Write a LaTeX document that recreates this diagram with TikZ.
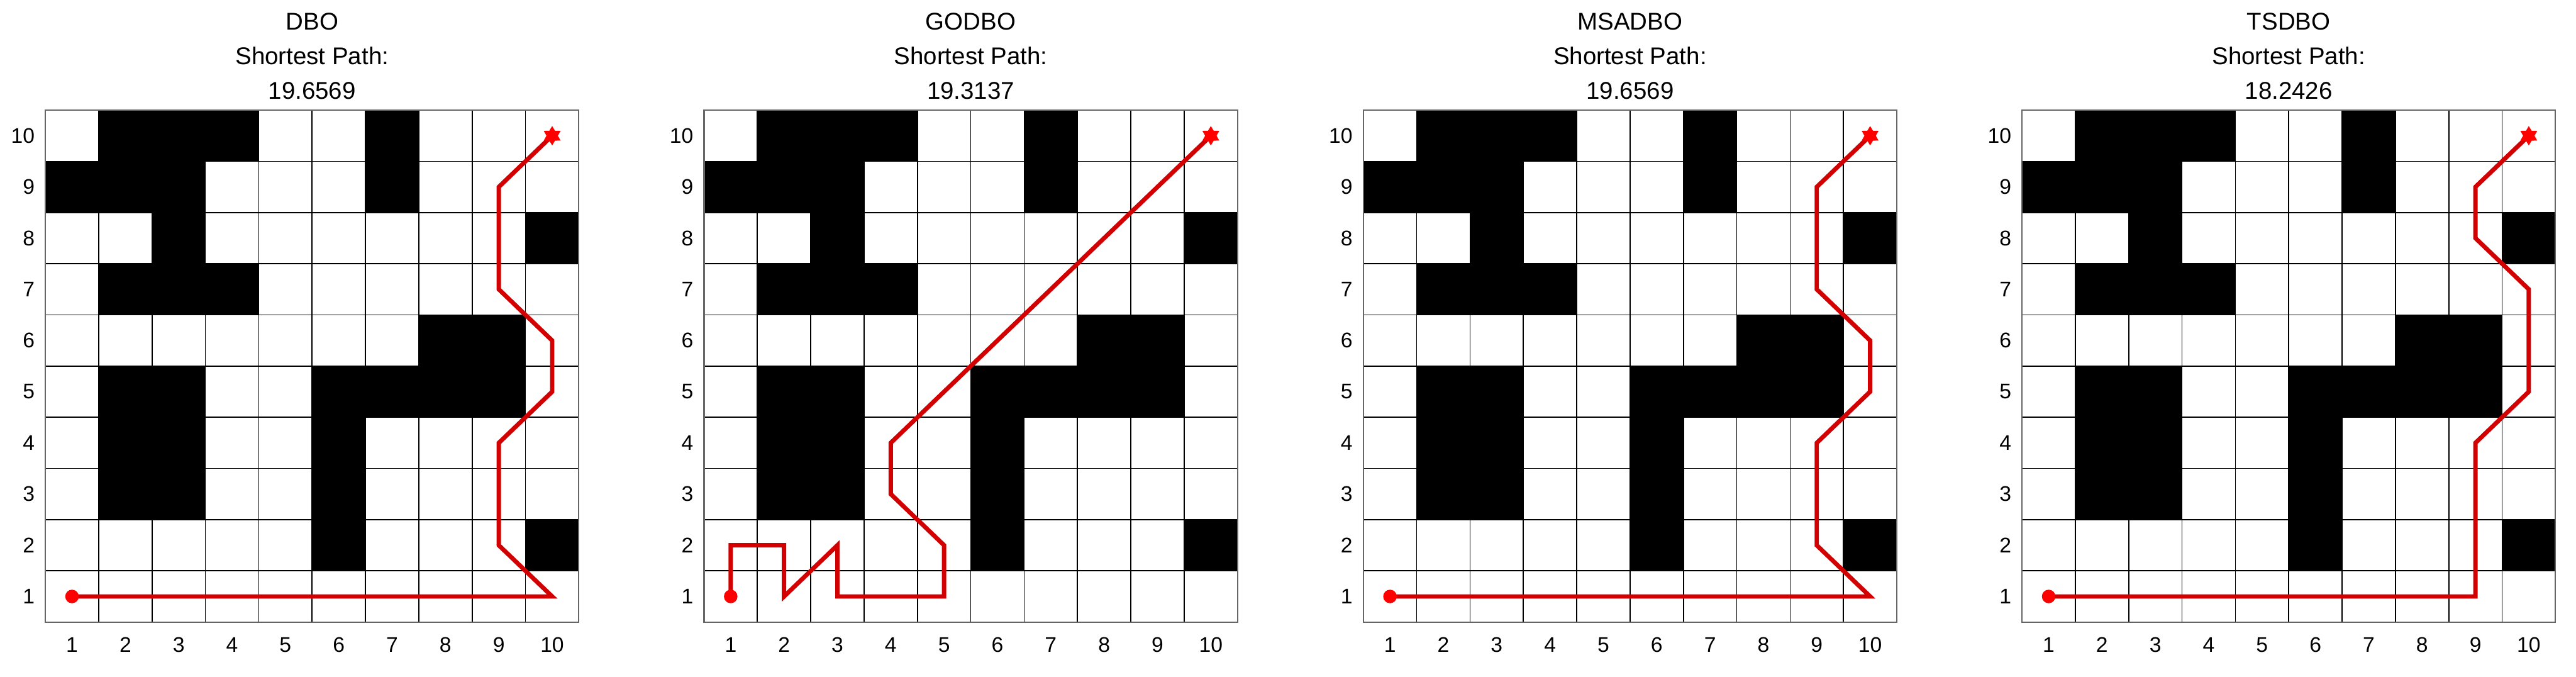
\documentclass[tikz,border=0pt]{standalone}
\usepackage{fontspec}
\setmainfont{Liberation Sans}
\usetikzlibrary{shapes.geometric}
\definecolor{pathred}{RGB}{210,0,0}
\definecolor{markred}{RGB}{255,0,0}
\definecolor{axisgray}{RGB}{128,128,128}

% one map panel: name, shift, title, length, route
\newcommand{\mazepanel}[5]{%
  \begin{scope}[shift={(#2)}]
    \foreach \c/\r in {2/10,3/10,4/10,7/10,1/9,2/9,3/9,7/9,3/8,10/8,2/7,3/7,4/7,
                       8/6,9/6,2/5,3/5,6/5,7/5,8/5,9/5,2/4,3/4,6/4,2/3,3/3,6/3,6/2,10/2}
      \fill[wall] (\c-0.5,\r-0.5) rectangle (\c+0.5,\r+0.5);
    \foreach \k in {1.5,2.5,...,9.5} {
      \draw[cellline] (\k,0.5) -- (\k,10.5);
      \draw[cellline] (0.5,\k) -- (10.5,\k);
    }
    \draw[frame] (0.5,0.5) rectangle (10.5,10.5);
    \foreach \i in {1,...,10} {
      \node[ticklab,yshift=-9.5pt] (#1-x\i) at (\i,0.5) {\i};
      \node[ticklab,anchor=east,xshift=-4.25pt] (#1-y\i) at (0.5,\i) {\i};
    }
    \node[heading,anchor=south,yshift=4.25pt] (#1-title) at (5.5,10.5)
      {#3\\Shortest Path:\\#4};
    \draw[route] #5;
    \node[startdot] (#1-start) at (1,1) {};
    \node[goalstar] (#1-goal) at (10,10) {};
  \end{scope}%
}

\begin{document}
\begin{tikzpicture}[
  x=22.05pt, y=21.15pt,
  wall/.style={fill=black},
  cellline/.style={black,line width=0.45pt},
  frame/.style={draw=axisgray!80!black,line width=0.55pt},
  route/.style={pathred,line width=1.8pt},
  ticklab/.style={font=\fontsize{8.75}{10}\selectfont,inner sep=0pt},
  heading/.style={font=\fontsize{10}{14.25}\selectfont,align=center,inner sep=0pt},
  startdot/.style={circle,fill=markred,inner sep=0pt,minimum size=5.6pt},
  goalstar/.style={star,star points=6,star point ratio=1.7,fill=markred,
    inner sep=0pt,minimum size=8pt},
]
  \useasboundingbox (0pt,0pt) rectangle (1064.75pt,279.5pt);

  \mazepanel{dbo}{7.725pt,11.925pt}{DBO}{19.6569}
    {(1,1) -- (10,1) -- (9,2) -- (9,4) -- (10,5) -- (10,6) -- (9,7) -- (9,9) -- (10,10)}
  \mazepanel{godbo}{279.975pt,11.925pt}{GODBO}{19.3137}
    {(1,1) -- (1,2) -- (2,2) -- (2,1) -- (3,2) -- (3,1) -- (5,1) -- (5,2) -- (4,3) -- (4,4) -- (10,10)}
  \mazepanel{msadbo}{552.475pt,11.925pt}{MSADBO}{19.6569}
    {(1,1) -- (10,1) -- (9,2) -- (9,4) -- (10,5) -- (10,6) -- (9,7) -- (9,9) -- (10,10)}
  \mazepanel{tsdbo}{824.725pt,11.925pt}{TSDBO}{18.2426}
    {(1,1) -- (9,1) -- (9,4) -- (10,5) -- (10,7) -- (9,8) -- (9,9) -- (10,10)}
\end{tikzpicture}
\end{document}
